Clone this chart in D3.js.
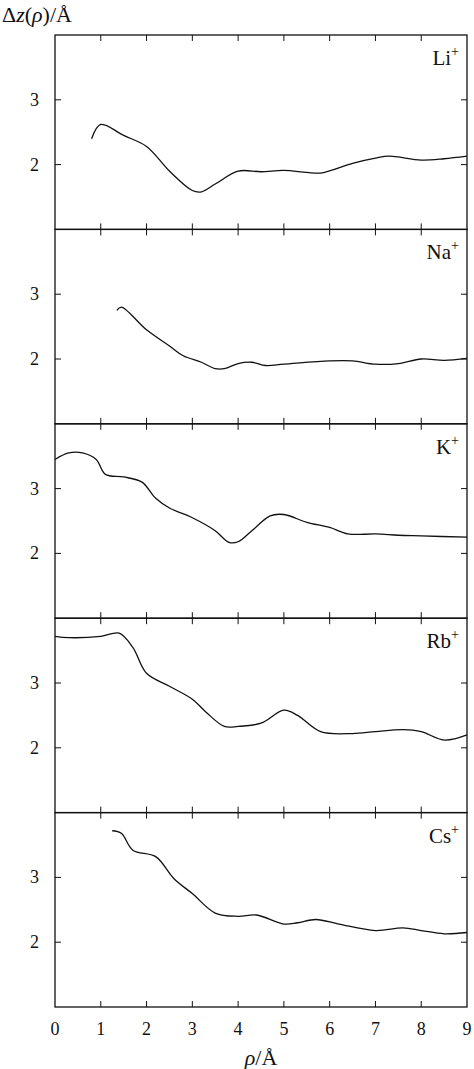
<!DOCTYPE html><html><head><meta charset="utf-8"><script src="https://cdn.jsdelivr.net/npm/d3@7"></script>
<style>body{margin:0;background:#fff}svg text{font-family:"Liberation Serif","Times New Roman","DejaVu Serif",serif;fill:#111}</style></head><body><svg id="c" width="474" height="1069"></svg><script>
const ions=["Li","Na","K","Rb","Cs"];
const xTicks=[0,1,2,3,4,5,6,7,8,9];
const yTicks=[2,3];
const liX=[0.8,1.0,1.5,2.0,2.5,3.0,3.2,3.5,4.0,4.5,5.0,5.5,5.8,6.5,7.0,7.3,8.0,8.5,9.0];
const liY=[2.4,2.62,2.45,2.28,1.9,1.6,1.58,1.7,1.9,1.89,1.91,1.88,1.87,2.02,2.1,2.13,2.07,2.09,2.13];
const naX=[1.35,1.45,2.0,2.5,2.8,3.2,3.5,3.7,4.0,4.3,4.6,5.0,6.0,6.5,7.0,7.5,8.0,8.5,9.0];
const naY=[2.75,2.8,2.45,2.2,2.05,1.95,1.85,1.85,1.93,1.95,1.9,1.92,1.97,1.97,1.92,1.93,2.0,1.98,2.01];
const kX=[0,0.3,0.6,0.9,1.1,1.5,1.9,2.2,2.5,3.0,3.5,3.8,4.0,4.3,4.7,5.0,5.5,6.0,6.4,7.0,7.5,8.0,9.0];
const kY=[3.45,3.55,3.55,3.45,3.22,3.18,3.1,2.85,2.7,2.55,2.35,2.17,2.18,2.35,2.58,2.6,2.48,2.4,2.3,2.3,2.28,2.27,2.25];
const rbX=[0,0.3,1.0,1.4,1.7,2.0,2.5,3.0,3.3,3.7,4.0,4.5,5.0,5.3,5.8,6.5,7.0,7.6,8.0,8.5,9.0];
const rbY=[3.72,3.7,3.72,3.77,3.55,3.15,2.95,2.75,2.55,2.33,2.33,2.38,2.58,2.5,2.25,2.22,2.25,2.28,2.25,2.12,2.2];
const csX=[1.25,1.45,1.7,2.2,2.6,3.0,3.5,4.0,4.4,5.0,5.3,5.7,6.2,7.0,7.6,8.0,8.5,9.0];
const csY=[3.72,3.68,3.42,3.32,2.98,2.75,2.45,2.4,2.42,2.28,2.3,2.35,2.28,2.18,2.22,2.18,2.13,2.15];
const series=[[liX,liY],[naX,naY],[kX,kY],[rbX,rbY],[csX,csY]];
const svg=d3.select("#c");
const L=55,R=467,T=35,H=194.4;
const x=d3.scaleLinear().domain([0,9]).range([L,R]);
series.forEach(([xs,ys],i)=>{
  const top=T+i*H,bot=top+H;
  const y=d3.scaleLinear().domain([1,4]).range([bot,top]);
  const g=svg.append("g");
  g.append("rect").attr("x",L).attr("y",top).attr("width",R-L).attr("height",H).attr("fill","none").attr("stroke","#111").attr("stroke-width",1.3);
  xTicks.slice(1,-1).forEach(t=>{
    g.append("line").attr("x1",x(t)).attr("x2",x(t)).attr("y1",top).attr("y2",top+6).attr("stroke","#111");
    g.append("line").attr("x1",x(t)).attr("x2",x(t)).attr("y1",bot).attr("y2",bot-6).attr("stroke","#111");
  });
  yTicks.forEach(t=>{
    g.append("line").attr("x1",L).attr("x2",L+6).attr("y1",y(t)).attr("y2",y(t)).attr("stroke","#111");
    g.append("line").attr("x1",R).attr("x2",R-6).attr("y1",y(t)).attr("y2",y(t)).attr("stroke","#111");
    g.append("text").attr("x",L-16).attr("y",y(t)+6).attr("text-anchor","end").attr("font-size",18).text(t);
  });
  const t=g.append("text").attr("x",R-8).attr("y",top+30).attr("text-anchor","end").attr("font-size",21).text(ions[i]);
  t.append("tspan").attr("dy",-9).attr("font-size",14).text("+");
  g.append("path").datum(xs.map((v,k)=>[v,ys[k]])).attr("fill","none").attr("stroke","#111").attr("stroke-width",1.3)
   .attr("d",d3.line().x(d=>x(d[0])).y(d=>y(d[1])).curve(d3.curveCatmullRom.alpha(0.5)));
});
const bottom=T+5*H;
xTicks.forEach(t=>svg.append("text").attr("x",x(t)).attr("y",bottom+28).attr("text-anchor","middle").attr("font-size",18).text(t));
svg.append("text").attr("x",x(4.5)).attr("y",bottom+58).attr("text-anchor","middle").attr("font-size",22).html('<tspan font-style="italic">ρ</tspan>/Å');
svg.append("text").attr("x",2).attr("y",22).attr("font-size",22).html('Δ<tspan font-style="italic">z</tspan>(<tspan font-style="italic">ρ</tspan>)/Å');
</script></body></html>
